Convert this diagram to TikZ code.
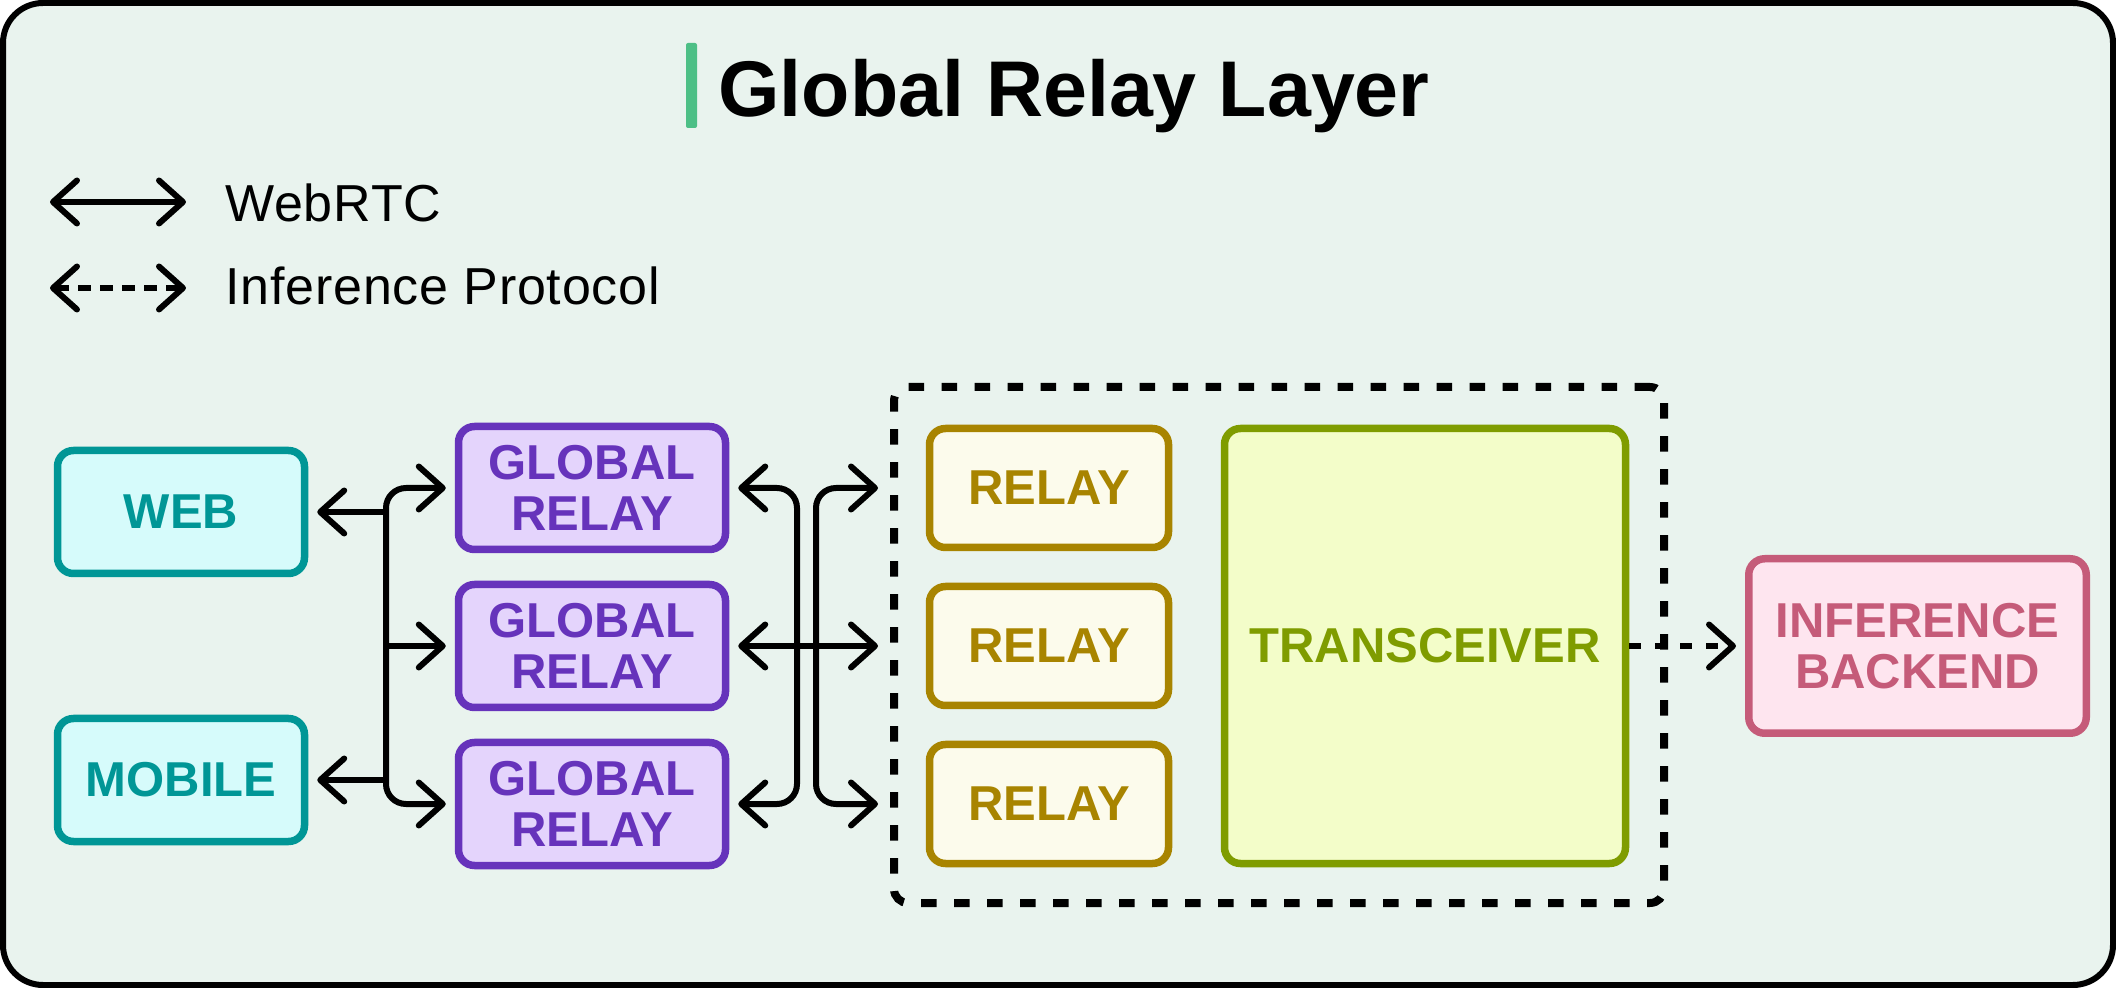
\documentclass[tikz,border=0pt]{standalone}
\usepackage{fontspec}
\setmainfont{Liberation Sans}
\usetikzlibrary{arrows.meta}
\definecolor{bgc}{HTML}{E9F3EE}
\definecolor{titlegreen}{HTML}{4DBF86}
\definecolor{tealS}{HTML}{009696}
\definecolor{tealF}{HTML}{D6FBFB}
\definecolor{purS}{HTML}{6633BB}
\definecolor{purF}{HTML}{E4D4FC}
\definecolor{relS}{HTML}{A88400}
\definecolor{relF}{HTML}{FCFBEC}
\definecolor{trS}{HTML}{7F9C00}
\definecolor{trF}{HTML}{F3FDC9}
\definecolor{beS}{HTML}{C55B79}
\definecolor{beF}{HTML}{FEE5EF}
\newfontfamily\legfont[LetterSpace=1.5]{Liberation Sans}
\tikzset{
  tipA/.tip={Straight Barb[length=12pt,width=21.5pt,round]},
  box/.style={draw, line width=3.75pt, rounded corners=8pt, align=center, inner sep=0pt,
    font=\bfseries\fontsize{24.5}{25.5}\selectfont},
  webbox/.style={box, draw=tealS, fill=tealF, text=tealS, minimum width=123.5pt, minimum height=61.5pt},
  grbox/.style={box, draw=purS, fill=purF, text=purS, minimum width=133.5pt, minimum height=61.5pt},
  relbox/.style={box, draw=relS, fill=relF, text=relS, minimum width=119.5pt, minimum height=59.5pt},
  wire/.style={line width=3pt, tipA-tipA},
  wireR/.style={line width=3pt, -tipA},
  legtext/.style={anchor=base west, inner sep=0pt, font=\legfont\fontsize{26}{27}\selectfont},
}
\begin{document}
\begin{tikzpicture}[x=0.5pt,y=-0.5pt]
\useasboundingbox (0,0) rectangle (2116,988);
% outer frame
\draw[line width=3pt, fill=bgc, rounded corners=20pt] (3,3) rectangle (2113,985);

% title
\node[fill=titlegreen, minimum width=5.5pt, minimum height=42.5pt, inner sep=0pt, rounded corners=1pt] (bar) at (691.5,85.5) {};
\node[anchor=base west, inner sep=0pt, font=\bfseries\fontsize{39.5}{40}\selectfont] (title) at (718,117) {Global Relay Layer};

% legend
\coordinate (la1) at (50,202);
\coordinate (la2) at (186,202);
\coordinate (lb1) at (50,288);
\coordinate (lb2) at (186,288);
\draw[wire] (la1) -- (la2);
\draw[wire, dash pattern=on 6.5pt off 4.5pt] (lb1) -- (lb2);
\node[legtext] (lt1) at (225,222) {WebRTC};
\node[legtext] (lt2) at (225,305) {Inference Protocol};

% nodes
\node[webbox] (WEB) at (181,512) {WEB};
\node[webbox] (MOB) at (181,780) {MOBILE};
\node[grbox] (GR1) at (592,488) {GLOBAL\\RELAY};
\node[grbox] (GR2) at (592,646) {GLOBAL\\RELAY};
\node[grbox] (GR3) at (592,804) {GLOBAL\\RELAY};
\node[draw, line width=4pt, dash pattern=on 7.75pt off 8.75pt, rounded corners=7pt,
      minimum width=385pt, minimum height=258pt, inner sep=0pt] (CONT) at (1279,645) {};
\node[relbox] (R1) at (1049,488) {RELAY};
\node[relbox] (R2) at (1049,646) {RELAY};
\node[relbox] (R3) at (1049,804) {RELAY};
\node[box, draw=trS, fill=trF, text=trS, minimum width=200.5pt, minimum height=217.5pt] (TR) at (1425,646) {TRANSCEIVER};
\node[box, draw=beS, fill=beF, text=beS, minimum width=168.75pt, minimum height=87.25pt] (BE) at (1917.5,646) {INFERENCE\\BACKEND};

% trunks
\coordinate (tL) at (386,600);
\coordinate (tM) at (797,600);
\coordinate (tN) at (816,600);

% left side
\draw[wire, rounded corners=10pt, shorten <=4.5pt, shorten >=4.5pt]
  (GR1.west) -- (GR1.west -| tL) -- (GR3.west -| tL) -- (GR3.west);
\draw[wireR, shorten >=4.5pt] (GR2.west -| tL) -- (GR2.west);
\draw[wireR, shorten >=4.5pt] (WEB.east -| tL) -- (WEB.east);
\draw[wireR, shorten >=4.5pt] (MOB.east -| tL) -- (MOB.east);

% right side
\draw[wire, rounded corners=10pt, shorten <=4.5pt, shorten >=4.5pt]
  (GR1.east) -- (GR1.east -| tM) -- (GR3.east -| tM) -- (GR3.east);
\draw[wire, rounded corners=10pt, shorten <=6pt, shorten >=6pt]
  (CONT.west |- R1) -- (tN |- R1) -- (tN |- R3) -- (CONT.west |- R3);
\draw[wire, shorten <=4.5pt, shorten >=6pt] (GR2.east) -- (CONT.west |- GR2);

% inference
\draw[wireR, dash pattern=on 6pt off 6.8pt, shorten >=4.5pt] (TR.east) -- (BE.west);
\end{tikzpicture}
\end{document}
